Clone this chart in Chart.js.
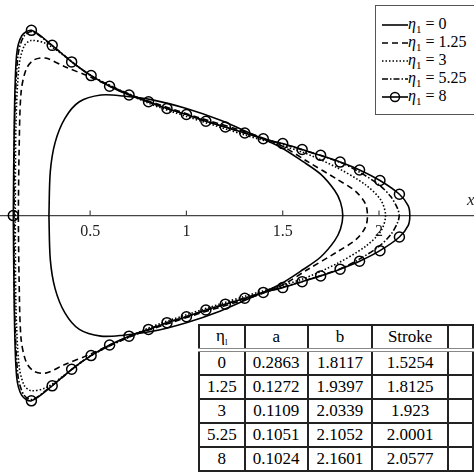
<!DOCTYPE html>
<html><head><meta charset="utf-8">
<script src="https://cdn.jsdelivr.net/npm/chart.js@4"></script>
<style>
body{margin:0;width:474px;height:474px;overflow:hidden;background:#fff;font-family:"Liberation Serif","DejaVu Serif",serif;}
#wrap{position:absolute;left:0;top:0;width:474px;height:474px;}
#leg{position:absolute;left:375px;top:5px;width:110px;height:108px;border:1px solid #555;background:#fff;font-family:"Liberation Serif","DejaVu Serif",serif;}
.li{position:absolute;left:6px;height:18px;font-size:16px;line-height:18px;white-space:nowrap;}
.li svg{vertical-align:middle;}
table{position:absolute;left:198px;top:324px;border-collapse:collapse;font-size:17px;background:#fff;font-family:"Liberation Serif",serif;}
td{border:2px solid #222;height:22px;padding:0;text-align:center;}
tr.h td{border-bottom:4px double #888;}
</style></head><body>
<div id="wrap"><canvas id="c" width="474" height="474"></canvas></div>
<div id="leg"></div>
<table id="tb"></table>
<script>
const etaLabels = ["0","1.25","3","5.25","8"];
const colA = ["0.2863","0.1272","0.1109","0.1051","0.1024"];
const colB = ["1.8117","1.9397","2.0339","2.1052","2.1601"];
const colStroke = ["1.5254","1.8125","1.923","2.0001","2.0577"];
const xTicks = [0.5,1,1.5,2];
// upper halves (x, y); lower half is the mirror image
const eta0X = [0.286,0.293,0.318,0.369,0.444,0.556,0.672,0.823,1.0,1.177,1.328,1.48,1.606,1.697,1.77,1.8,1.812];
const eta0Y = [0,0.227,0.379,0.505,0.591,0.626,0.621,0.601,0.556,0.495,0.429,0.36,0.28,0.215,0.13,0.07,0];
const eta125X = [0.127,0.131,0.141,0.167,0.207,0.268,0.369,0.495,0.672,0.874,1.076,1.278,1.48,1.63,1.78,1.88,1.93,1.94];
const eta125Y = [0,0.33,0.636,0.758,0.808,0.818,0.773,0.722,0.641,0.571,0.505,0.444,0.37,0.28,0.19,0.125,0.06,0];
const eta3X = [0.111,0.115,0.131,0.157,0.192,0.27,0.369,0.505,0.8,1.0,1.3,1.6,1.78,1.93,2.01,2.034];
const eta3Y = [0,0.48,0.78,0.88,0.909,0.894,0.827,0.727,0.585,0.515,0.42,0.33,0.25,0.16,0.08,0];
const eta525X = [0.105,0.108,0.125,0.155,0.2,0.303,0.505,0.803,1.0,1.303,1.601,1.8,1.9,2.0,2.06,2.095,2.105];
const eta525Y = [0,0.48,0.83,0.93,0.955,0.882,0.726,0.59,0.524,0.428,0.342,0.276,0.225,0.16,0.1,0.04,0];
const eta8X = [0.101,0.106,0.118,0.145,0.195,0.303,0.404,0.505,0.601,0.702,0.803,0.899,1.0,1.101,1.202,1.303,1.399,1.5,1.601,1.697,1.798,1.899,2.005,2.106,2.152,2.16];
const eta8Y = [0,0.48,0.833,0.934,0.962,0.884,0.798,0.727,0.672,0.626,0.591,0.556,0.525,0.49,0.46,0.429,0.399,0.374,0.343,0.313,0.278,0.237,0.182,0.111,0.051,0];
const markerIdx = [4,5,6,7,8,9,10,11,12,13,14,15,16,17,18,19,20,21,22,23];

function closed(xs, ys){
  const top = xs.map((x,i)=>({x, y:ys[i]}));
  const bot = xs.slice().reverse().map((x,i)=>({x, y:-ys[ys.length-1-i]}));
  return top.concat(bot.slice(1));
}
const markers = [{x:eta8X[0],y:0}];
markerIdx.forEach(i=>{markers.push({x:eta8X[i],y:eta8Y[i]});markers.push({x:eta8X[i],y:-eta8Y[i]});});

const styles = [[],[6,4],[1.5,2],[6,2,1.5,2],[]];
const series = [[eta0X,eta0Y],[eta125X,eta125Y],[eta3X,eta3Y],[eta525X,eta525Y],[eta8X,eta8Y]];
const datasets = series.map((s,k)=>({data:closed(s[0],s[1]),showLine:true,borderColor:'#000',borderWidth:1.6,borderDash:styles[k],pointRadius:0,tension:0.3,fill:false}));
datasets.push({data:markers,showLine:false,pointRadius:5,pointBorderWidth:1.5,pointBorderColor:'#000',pointBackgroundColor:'rgba(0,0,0,0)'});

const axisPlugin = {id:'ax', beforeDatasetsDraw(ch){
  const c=ch.ctx, xs=ch.scales.x, ys=ch.scales.y, y0=ys.getPixelForValue(0);
  c.save(); c.strokeStyle='#444'; c.lineWidth=1.2;
  c.beginPath(); c.moveTo(0,y0); c.lineTo(474,y0); c.stroke();
  c.fillStyle='#222'; c.font='16px "Liberation Serif"'; c.textAlign='center'; c.textBaseline='top';
  xTicks.forEach(t=>{const p=xs.getPixelForValue(t); c.beginPath(); c.moveTo(p,y0); c.lineTo(p,y0-5); c.stroke(); c.fillText(String(t),p,y0+8);});
  c.font='italic 17px "Liberation Serif"'; c.textAlign='left'; c.fillText('x',467,y0-24);
  c.restore();
}};

new Chart(document.getElementById('c'),{type:'scatter',data:{datasets},
  options:{responsive:false,animation:false,layout:{padding:0},
    plugins:{legend:{display:false},tooltip:{enabled:false}},
    scales:{x:{type:'linear',display:false,min:13/198,max:487/198},
            y:{type:'linear',display:false,min:-259/198,max:215/198}}},
  plugins:[axisPlugin]});

// legend
const leg=document.getElementById('leg');
const dashes=["","6,4","1.5,2","6,2,1.5,2",""];
etaLabels.forEach((l,k)=>{
  const d=document.createElement('div'); d.className='li'; d.style.top=(9+k*18)+'px';
  let svg='<svg width="26" height="12"><line x1="0" y1="6" x2="26" y2="6" stroke="#000" stroke-width="1.6" '+(dashes[k]?'stroke-dasharray="'+dashes[k]+'"':'')+'/>'+(k===4?'<circle cx="13" cy="6" r="4.5" fill="none" stroke="#000" stroke-width="1.5"/>':'')+'</svg>';
  d.innerHTML=svg+'<i>η</i><sub style="font-size:11px">1</sub> = '+l; leg.appendChild(d);
});
// table
const tb=document.getElementById('tb');
let h='<tr class="h"><td style="width:48px">η<sub style="font-size:9px">l</sub></td><td style="width:66px">a</td><td style="width:67px">b</td><td style="width:83px">Stroke</td><td style="width:30px"></td></tr>';
etaLabels.forEach((l,k)=>{h+='<tr><td>'+l+'</td><td>'+colA[k]+'</td><td>'+colB[k]+'</td><td>'+colStroke[k]+'</td><td></td></tr>';});
tb.innerHTML=h;
</script></body></html>
